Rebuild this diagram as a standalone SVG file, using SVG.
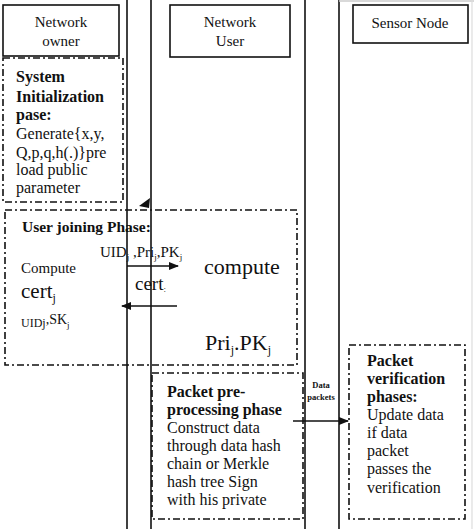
<svg xmlns="http://www.w3.org/2000/svg" width="474" height="529" viewBox="0 0 474 529">
<style>
text{font-family:"Liberation Serif","Times New Roman",serif;fill:#111}
.b{font-weight:bold}
.actor{fill:#fff;stroke:#111;stroke-width:1.6}
.life{stroke:#111;stroke-width:1.6;fill:none}
.phase{fill:none;stroke:#111;stroke-width:1.6;stroke-dasharray:7 3 2 3}
.msg{stroke:#111;stroke-width:1.6;fill:none}
</style>
<defs>
<marker id="ah" markerWidth="10" markerHeight="8" refX="9" refY="4" orient="auto" markerUnits="userSpaceOnUse">
<path d="M0,0 L10,4 L0,8 Z" fill="#111"/>
</marker>
</defs>
<rect width="474" height="529" fill="#fff"/>
<g id="lifelines">
<line class="life" x1="127" y1="0" x2="127" y2="529"/>
<line class="life" x1="151" y1="0" x2="151" y2="529"/>
<line class="life" x1="305" y1="0" x2="305" y2="529"/>
<line class="life" x1="339" y1="0" x2="339" y2="529"/>
<line x1="339" y1="1" x2="474" y2="1" stroke="#ccc" stroke-width="1.5"/>
<line x1="472" y1="0" x2="472" y2="529" stroke="#ddd" stroke-width="1.2"/>
</g>
<g id="network-owner">
<rect class="actor" x="3" y="5" width="116" height="51"/>
<text x="61" y="27" font-size="15" text-anchor="middle">Network</text>
<text x="61" y="46" font-size="15" text-anchor="middle">owner</text>
</g>
<g id="network-user">
<rect class="actor" x="170" y="5" width="120" height="52"/>
<text x="230" y="27" font-size="15" text-anchor="middle">Network</text>
<text x="230" y="46" font-size="15" text-anchor="middle">User</text>
</g>
<g id="sensor-node">
<rect class="actor" x="353" y="5" width="115" height="38"/>
<text x="410" y="28" font-size="15" text-anchor="middle">Sensor Node</text>
</g>
<g id="system-init">
<rect class="phase" x="3" y="58" width="120" height="144"/>
<text x="16" y="82" font-size="16" class="b">System</text>
<text x="16" y="102" font-size="16" class="b">Initialization</text>
<text x="16" y="120" font-size="16" class="b">pase:</text>
<text x="16" y="139" font-size="16">Generate{x,y,</text>
<text x="16" y="158" font-size="16">Q,p,q,h(.)}pre</text>
<text x="16" y="175" font-size="16">load public</text>
<text x="16" y="193" font-size="16">parameter</text>
</g>
<g id="user-joining">
<rect class="phase" x="5" y="210" width="292" height="155"/>
<text x="22" y="232" font-size="15.5" class="b">User joining Phase:</text>
<text x="100" y="257" font-size="15">UID<tspan font-size="9" dy="3">j</tspan><tspan dy="-3"> ,Pri</tspan><tspan font-size="9" dy="3">j</tspan><tspan dy="-3">,PK</tspan><tspan font-size="9" dy="3">j</tspan></text>
<text x="21" y="273" font-size="15">Compute</text>
<text x="21" y="298" font-size="21">cert<tspan font-size="12" dy="4">j</tspan></text>
<text x="21" y="327" font-size="12">UIDj<tspan font-size="14" dy="-3">,SK</tspan><tspan font-size="9" dy="4">j</tspan></text>
<text x="204" y="274" font-size="22">compute</text>
<text x="135" y="290" font-size="19">cert<tspan font-size="9" dy="2">:</tspan></text>
<text x="205" y="350" font-size="22">Pri<tspan font-size="12" dy="4">j</tspan><tspan dy="-4">.PK</tspan><tspan font-size="12" dy="4">j</tspan></text>
</g>
<g id="packet-preprocessing">
<rect class="phase" x="152" y="373" width="151" height="146"/>
<text x="167" y="397" font-size="16" class="b">Packet pre-</text>
<text x="167" y="415" font-size="16" class="b">processing phase</text>
<text x="167" y="433" font-size="16">Construct data</text>
<text x="167" y="451" font-size="16">through data hash</text>
<text x="167" y="469" font-size="16">chain or Merkle</text>
<text x="167" y="487" font-size="16">hash tree Sign</text>
<text x="167" y="505" font-size="16">with his private</text>
</g>
<g id="packet-verification">
<rect class="phase" x="349" y="345" width="116" height="174"/>
<text x="367" y="366" font-size="16" class="b">Packet</text>
<text x="367" y="384" font-size="16" class="b">verification</text>
<text x="367" y="402" font-size="16" class="b">phases:</text>
<text x="367" y="420" font-size="16">Update data</text>
<text x="367" y="438" font-size="16">if data</text>
<text x="367" y="456" font-size="16">packet</text>
<text x="367" y="474" font-size="16">passes the</text>
<text x="367" y="493" font-size="16">verification</text>
</g>
<g id="connectors">
<line class="msg" x1="127" y1="266" x2="178" y2="266" marker-end="url(#ah)"/>
<line class="msg" x1="177" y1="306" x2="122" y2="306" marker-end="url(#ah)"/>
<line class="msg" x1="293" y1="421" x2="348" y2="421" marker-end="url(#ah)"/>
<polygon points="139,206 150,198 149,208" fill="#111"/>
<text x="321" y="388" font-size="8.5" class="b" text-anchor="middle">Data</text>
<text x="321" y="400" font-size="8.5" class="b" text-anchor="middle">packets</text>
</g>
</svg>
